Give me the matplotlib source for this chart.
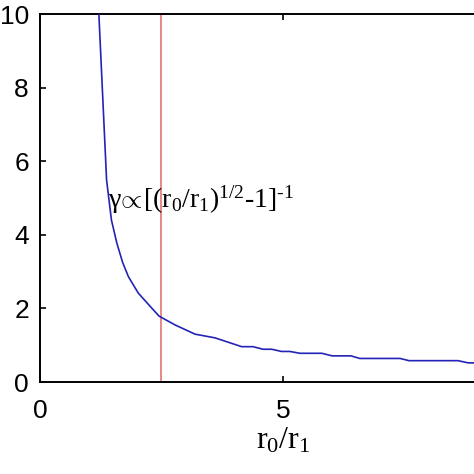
import matplotlib
matplotlib.use("Agg")
import matplotlib.pyplot as plt

# curve (r0/r1 , gamma)
ratio = [1.19, 1.37, 1.47, 1.58, 1.70, 1.82, 2.02, 2.25, 2.45, 2.78, 3.19, 3.60,
         4.15, 4.38, 4.59, 4.77, 4.97, 5.14, 5.35, 5.80, 6.01, 6.40, 6.58, 7.41,
         7.59, 8.60, 8.81, 9.20]
gamma = [10.6, 5.49, 4.40, 3.78, 3.25, 2.86, 2.42, 2.08, 1.79, 1.55, 1.30, 1.20,
         0.96, 0.96, 0.89, 0.89, 0.83, 0.83, 0.78, 0.78, 0.71, 0.71, 0.64, 0.64,
         0.58, 0.58, 0.52, 0.52]
marker_x = 2.48
xticks = [0, 5]
yticks = [0, 2, 4, 6, 8, 10]

plt.rcParams['mathtext.fontset'] = 'custom'
plt.rcParams['mathtext.rm'] = 'Liberation Serif'
plt.rcParams['mathtext.it'] = 'Liberation Serif'

fig = plt.figure(figsize=(4.74, 4.74), dpi=100)
# the original is cropped on the right, so the axes run past the figure edge
ax = fig.add_axes([40 / 474, 92 / 474, 486 / 474, 368 / 474])

ax.plot(ratio, gamma, color='#2323b8', lw=1.2, zorder=3)
ax.axvline(marker_x, color='#e06a6a', lw=1.1, zorder=2)

ax.set_xlim(0, 10)
ax.set_ylim(0, 10)
ax.set_xticks(xticks)
ax.set_yticks(yticks)
ax.tick_params(direction='in', length=4, width=1.2, top=True, right=True,
               labelsize=19, pad=8)
ax.tick_params(axis='x', pad=12)
for lab in ax.get_xticklabels() + ax.get_yticklabels():
    lab.set_family('Liberation Sans')
for s in ax.spines.values():
    s.set_linewidth(1.4)

ax.text(1.40, 4.95, r'$\mathrm{\gamma\!\propto\![(r_0/r_1)^{1/2}\text{-}1]^{\text{-}1}}$',
        fontsize=20, va='center', ha='left', family='Liberation Serif')
ax.set_xlabel(r'$\mathrm{r_0/r_1}$', fontsize=23)
# keep the label centered under x=5 (axes is wider than figure)
ax.xaxis.set_label_coords(0.5, -0.115)

fig.savefig('out.png', dpi=100)
